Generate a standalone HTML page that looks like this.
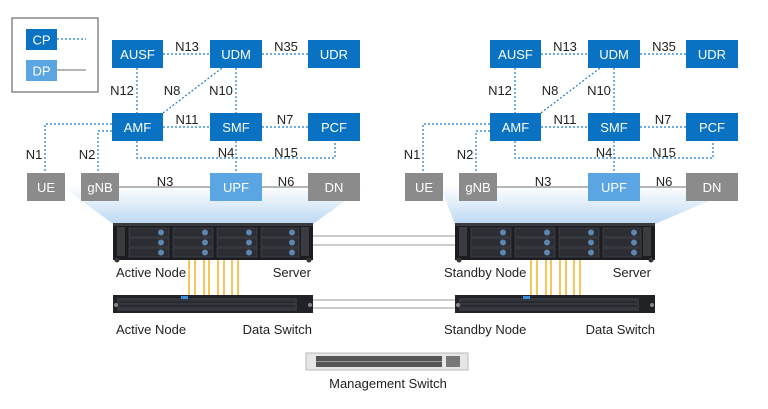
<!DOCTYPE html>
<html><head><meta charset="utf-8"><style>
html,body{margin:0;padding:0;background:#fff;width:768px;height:409px;overflow:hidden}
svg{display:block}
text{font-family:"Liberation Sans",sans-serif}
</style></head><body>
<svg width="768" height="409" viewBox="0 0 768 409" xmlns="http://www.w3.org/2000/svg">
<defs>
<linearGradient id="g" x1="0" y1="0" x2="0" y2="1">
<stop offset="0" stop-color="#ffffff"/><stop offset="1" stop-color="#bcd9f2"/>
</linearGradient>
<g id="srv">
<rect x="0" y="0" width="200" height="37" fill="#1c1d20"/>
<rect x="0" y="0" width="200" height="3" fill="#3a3b3f"/>
<rect x="4" y="4" width="8" height="29" fill="#3b3c40"/>
<rect x="188" y="4" width="8" height="29" fill="#3b3c40"/>
<g fill="#2c2e33" stroke="#4a4d55" stroke-width="0.6">
<rect x="16" y="5" width="40" height="9"/><rect x="60" y="5" width="40" height="9"/><rect x="104" y="5" width="40" height="9"/><rect x="148" y="5" width="38" height="9"/>
<rect x="16" y="15" width="40" height="9"/><rect x="60" y="15" width="40" height="9"/><rect x="104" y="15" width="40" height="9"/><rect x="148" y="15" width="38" height="9"/>
<rect x="16" y="25" width="40" height="9"/><rect x="60" y="25" width="40" height="9"/><rect x="104" y="25" width="40" height="9"/><rect x="148" y="25" width="38" height="9"/>
</g>
<g fill="#5d86b0">
<circle cx="48" cy="9.5" r="3"/><circle cx="92" cy="9.5" r="3"/><circle cx="136" cy="9.5" r="3"/><circle cx="179" cy="9.5" r="3"/>
<circle cx="48" cy="19.5" r="3"/><circle cx="92" cy="19.5" r="3"/><circle cx="136" cy="19.5" r="3"/><circle cx="179" cy="19.5" r="3"/>
<circle cx="48" cy="29.5" r="3"/><circle cx="92" cy="29.5" r="3"/><circle cx="136" cy="29.5" r="3"/><circle cx="179" cy="29.5" r="3"/>
</g>
<circle cx="4" cy="37" r="2.5" fill="#333"/><circle cx="196" cy="37" r="2.5" fill="#333"/>
</g>
<g id="sw">
<rect x="0" y="0" width="200" height="18" fill="#202226"/>
<rect x="4" y="3" width="180" height="13" fill="#34373d"/>
<g stroke="#15171a" stroke-width="0.8">
<path d="M6 7H182M6 11H182"/>
</g>
<rect x="68" y="1" width="7" height="3" fill="#3a8ee0"/>
<circle cx="3" cy="10" r="2" fill="#888"/><circle cx="197" cy="10" r="2" fill="#888"/>
</g>
<g id="hw">
<use href="#srv" x="113" y="223"/>
<use href="#sw" x="113" y="295"/>
<g stroke="#f0a800" stroke-width="1.3"><path d="M189 260V295M195 260V295M204 260V295M209 260V295M218 260V295M224 260V295M232 260V295M238 260V295"/></g>
</g>
<g id="dia">
<g fill="none" stroke="#1a7ccc" stroke-width="1.2" stroke-dasharray="2,2">
<path d="M163 54H210M262 54H308M137 68V113M163 113L222 68M236 68V113M163 127H210M262 127H308"/>
<path d="M112 124H45V173M112 131H98V173M137 141V158H335V141M236 141V173"/>
</g>
<g stroke="#8a8a8a" stroke-width="1.2"><path d="M119 187H210M262 187H308"/></g>
<g fill="#0a72c2">
<rect x="112" y="40" width="51" height="28"/><rect x="210" y="40" width="52" height="28"/><rect x="308" y="40" width="52" height="28"/>
<rect x="112" y="113" width="51" height="28"/><rect x="210" y="113" width="52" height="28"/><rect x="308" y="113" width="52" height="28"/>
</g>
<g fill="#8b8b8b"><rect x="27" y="173" width="38" height="28"/><rect x="81" y="173" width="38" height="28"/><rect x="308" y="173" width="52" height="28"/></g>
<rect x="210" y="173" width="52" height="28" fill="#5ba6e2"/>
<g fill="#fff" font-size="13" text-anchor="middle">
<text x="137.5" y="59">AUSF</text><text x="236" y="59">UDM</text><text x="334" y="59">UDR</text>
<text x="137.5" y="132">AMF</text><text x="236" y="132">SMF</text><text x="334" y="132">PCF</text>
<text x="46" y="192">UE</text><text x="100" y="192">gNB</text><text x="236" y="192">UPF</text><text x="334" y="192">DN</text>
</g>
<g fill="#222" font-size="13" text-anchor="middle">
<text x="187" y="51">N13</text><text x="286" y="51">N35</text>
<text x="122" y="95">N12</text><text x="172" y="95">N8</text><text x="221" y="95">N10</text>
<text x="187" y="124">N11</text><text x="285" y="124">N7</text>
<text x="34" y="159">N1</text><text x="87" y="159">N2</text><text x="226" y="157">N4</text><text x="286" y="157">N15</text>
<text x="165" y="186">N3</text><text x="286" y="186">N6</text>
</g>
</g>
</defs>
<rect x="12" y="18" width="86" height="74" fill="#fff" stroke="#777" stroke-width="1.3"/>
<rect x="26" y="29" width="31" height="21" fill="#0a72c2"/>
<rect x="26" y="60" width="31" height="21" fill="#5ba6e2"/>
<text x="41.5" y="44.5" fill="#fff" font-size="13" text-anchor="middle">CP</text>
<text x="41.5" y="75.5" fill="#fff" font-size="13" text-anchor="middle">DP</text>
<path d="M57 39H86" stroke="#1a7ccc" stroke-width="1.2" stroke-dasharray="2,2"/>
<path d="M57 70H86" stroke="#8a8a8a" stroke-width="1.2"/>
<polygon points="62,186 366,186 313,224 113,224" fill="url(#g)"/>
<polygon points="440,186 744,186 655,224 455,224" fill="url(#g)"/>
<use href="#dia"/>
<use href="#dia" x="378"/>
<use href="#hw"/>
<use href="#hw" x="342"/>
<g stroke="#999" stroke-width="1"><path d="M313 236H455M313 245H455M313 300H455M313 308H455"/></g>
<g fill="#222" font-size="13">
<text x="116" y="277">Active Node</text><text x="311" y="277" text-anchor="end">Server</text>
<text x="116" y="334">Active Node</text><text x="312" y="334" text-anchor="end">Data Switch</text>
<text x="444" y="277">Standby Node</text><text x="651" y="277" text-anchor="end">Server</text>
<text x="444" y="334">Standby Node</text><text x="655" y="334" text-anchor="end">Data Switch</text>
<text x="388" y="388" text-anchor="middle">Management Switch</text>
</g>
<rect x="306" y="353" width="162" height="17" fill="#e6e6e6" stroke="#bbb"/>
<rect x="316" y="356" width="126" height="11" fill="#555"/>
<g stroke="#ddd" stroke-width="0.6"><path d="M316 361.5H442"/></g>
<rect x="446" y="356" width="14" height="11" fill="#777"/>
</svg>
</body></html>
